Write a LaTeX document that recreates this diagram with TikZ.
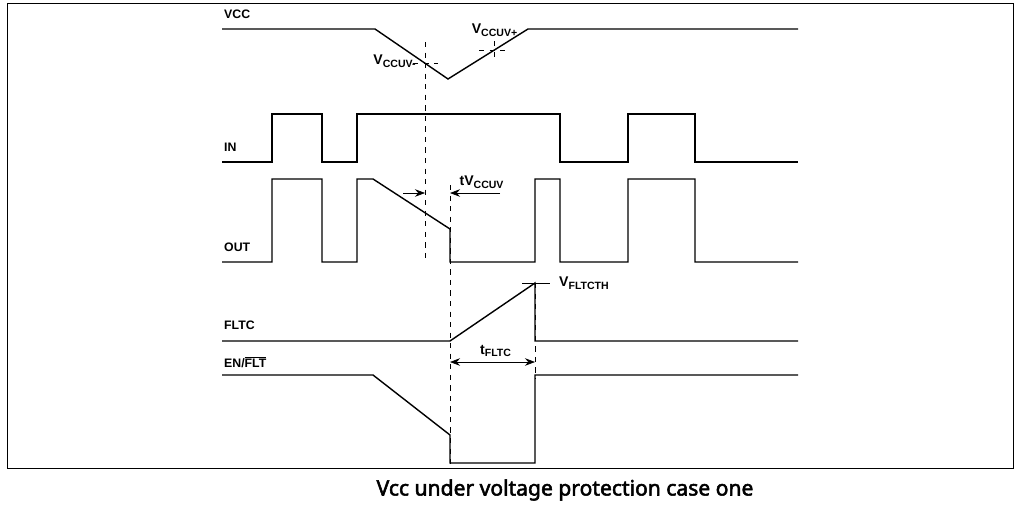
\documentclass[tikz,border=0pt]{standalone}
\usepackage{fontspec}
\setmainfont{Liberation Sans}
\newfontfamily\capfont[FakeBold=2.5]{Noto Sans}
\usetikzlibrary{arrows.meta}
\tikzset{
  wave/.style={thick, line join=miter},
  guide/.style={thin, dashed},
  tick/.style={thin, dashed},
  siglabel/.style={font=\scriptsize\bfseries, anchor=west},
  dim/.style={{Stealth[length=2mm]}-{Stealth[length=2mm]}, thin},
  darr/.style={-{Stealth[length=2mm]}, thin},
}
\begin{document}
\begin{tikzpicture}[x=0.02cm, y=-0.02cm]
  \useasboundingbox (0,0) rectangle (1024,507);
  \draw[thin] (7,3) rectangle (1013,468);
  \node[font=\capfont\large] (cap) at (565,490) {Vcc under voltage protection case one};

  % Signal names
  \node[siglabel] (vcc) at (218,14) {VCC};
  \node[siglabel] (in) at (218,147) {IN};
  \node[siglabel] (out) at (218,247) {OUT};
  \node[siglabel] (fltc) at (218,325) {FLTC};
  \node[siglabel] (en) at (218,362) {EN/$\overline{\mbox{FLT}}$};

  % Waveforms
  \draw[wave] (222,29) -- (375,29) -- (448,79) -- (528,29) -- (798,29);
  \draw[wave] (222,162) -- (272,162) -- (272,114) -- (322,114) -- (322,162) -- (357,162) -- (357,114) -- (560,114) -- (560,162) -- (628,162) -- (628,114) -- (695,114) -- (695,162) -- (798,162);
  \draw[wave] (222,262) -- (272,262) -- (272,179) -- (322,179) -- (322,262) -- (357,262) -- (357,179) -- (373,179) -- (450,229) -- (450,262) -- (535,262) -- (535,179) -- (560,179) -- (560,262) -- (628,262) -- (628,179) -- (695,179) -- (695,262) -- (798,262);
  \draw[wave] (222,341) -- (450,341) -- (535,283) -- (535,341) -- (798,341);
  \draw[wave] (222,375) -- (373,375) -- (450,435) -- (450,463) -- (535,463) -- (535,375) -- (798,375);

  % Guides
  \coordinate (g1t) at (425,42);
  \coordinate (g1b) at (425,262);
  \coordinate (g2t) at (450,185);
  \coordinate (g2b) at (450,465);
  \coordinate (g3t) at (535,283);
  \coordinate (g3b) at (535,378);
  \draw[guide] (g1t) -- (g1b);
  \draw[guide] (g2t) -- (g2b);
  \draw[guide] (g3t) -- (g3b);

  % Threshold marks
  \draw[tick] (413,63) -- (438,63);
  \draw[tick] (479,50) -- (510,50);
  \draw[tick] (494,41) -- (494,59);
  \draw[thin] (522,283) -- (550,283);
  \node[font=\footnotesize\bfseries] (uvm) at (395,61) {V\textsubscript{CCUV-}};
  \node[font=\footnotesize\bfseries] (uvp) at (495,30) {V\textsubscript{CCUV+}};
  \node[font=\footnotesize\bfseries, anchor=west] (vth) at (553,283) {V\textsubscript{FLTCTH}};

  % Timing
  \coordinate (a1) at (403,193);
  \coordinate (a2) at (500,193);
  \draw[darr] (a1) -- (g1t |- a1);
  \draw[darr] (a2) -- (g2t |- a2);
  \node[font=\footnotesize\bfseries] (tuv) at (482,182) {tV\textsubscript{CCUV}};
  \coordinate (d1) at (450,362);
  \coordinate (d2) at (535,362);
  \draw[dim] (d1) -- (d2);
  \node[font=\footnotesize\bfseries] (tf) at (496,351) {t\textsubscript{FLTC}};
\end{tikzpicture}
\end{document}
